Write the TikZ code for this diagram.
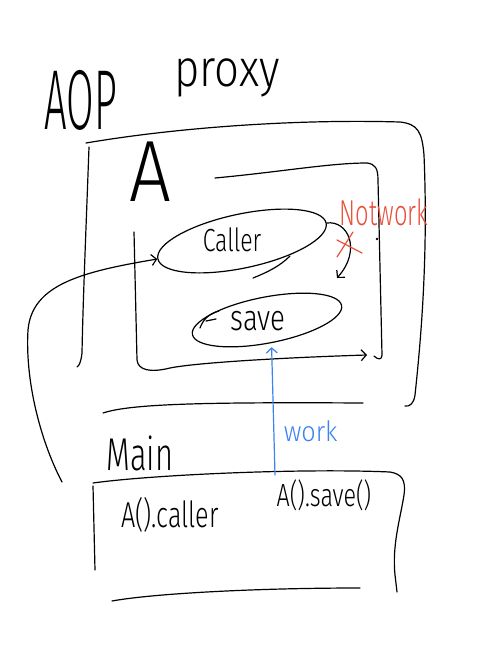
\documentclass[tikz,border=0pt]{standalone}
\usepackage{fontspec}
\setmainfont{Fira Sans Light}
\usetikzlibrary{arrows.meta}
\usetikzlibrary{shapes.geometric}
\definecolor{penred}{RGB}{232,80,60}
\definecolor{penblue}{RGB}{60,130,240}
\newcommand{\squeeze}[2]{\scalebox{#1}[1]{#2}}
\newcommand{\fs}[1]{\fontsize{#1}{#1}\selectfont}

\begin{document}
\begin{tikzpicture}[x=1pt, y=-1pt, line cap=round, line join=round, line width=1.2pt, >={Straight Barb[length=5pt,width=11pt]},
	bubble/.style={ellipse, draw, inner sep=0pt}]
			\useasboundingbox (0,0) rectangle (484,646);
			% title
			\node (aop) at (81,100) {\fs{85}\squeeze{0.47}{AOP}};
			\node (proxy) at (227,78) {\fs{52}\squeeze{0.84}{proxy}};
			% proxy box
			\draw (86,143) .. controls (180,127) and (300,119) .. (400,122) .. controls (418,124) and (422,132) .. (424,155) .. controls (428,250) and (422,330) .. (415,395) .. controls (414,403) and (410,407) .. (405,406);
			\draw (89,147) .. controls (86,230) and (83,300) .. (82,353) .. controls (81,362) and (79,366) .. (77,367);
			\draw (103,413) .. controls (130,404) and (200,402) .. (363,403);
			% class A box
			\node (classa) at (150,172) {\fs{87}\squeeze{0.85}{A}};
			\draw (215,178) .. controls (280,172) and (330,163) .. (367,163) .. controls (375,164) and (378,168) .. (378,180) -- (382,355) .. controls (382,360) and (378,360) .. (374,356);
			\draw[->] (134,232) -- (137,360) .. controls (138,370) and (150,373) .. (170,368) .. controls (200,362) and (300,357) .. (367,355);
			\fill (377,239) circle (1.3);
			% methods
			\node[bubble, minimum width=172, minimum height=54, rotate=12] (caller) at (242,241) {};
			\node (callertxt) at (232,240) {\fs{32}\squeeze{0.72}{Caller}};
			\draw (253,278) .. controls (268,272) and (280,266) .. (290,256);
			\node[bubble, minimum width=152, minimum height=46, rotate=11] (save) at (267,320) {};
			\node (savetxt) at (258,321) {\fs{36}\squeeze{0.77}{save}};
			\draw (200,328) .. controls (203,320) and (208,314) .. (219,311);
			\draw (206,321) -- (216,319);
			% self call
			\coordinate (nwend) at (337,278);
			\draw[->] (caller.east) .. controls (348,220) and (362,250) .. (nwend);
			\draw[penred] (337,257) -- (353,232);
			\draw[penred] (337,240) -- (362,253);
			\node[text=penred] (notwork) at (384,212) {\fs{36}\squeeze{0.66}{Notwork}};
			% main
			\node (maintxt) at (140,453) {\fs{46}\squeeze{0.67}{Main}};
			\draw (93,483) .. controls (150,475) and (300,468) .. (390,472) .. controls (402,474) and (406,480) .. (404,495) .. controls (400,520) and (392,545) .. (395,575) -- (397,592);
			\draw (93,486) -- (95,570);
			\draw (112,601) .. controls (150,594) and (250,588) .. (360,588);
			\node (callcall) at (170,515) {\fs{36}\squeeze{0.7}{A().caller}};
			\node (savecall) at (324,495) {\fs{32}\squeeze{0.73}{A().save()}};
			% calls
			\coordinate (mainleft) at (62,482);
			\draw[->] (mainleft) .. controls (40,440) and (25,380) .. (28,330) .. controls (32,285) and (80,272) .. (caller.west);
			\coordinate (workstart) at (275,475);
			\draw[->, penblue, shorten >=4pt] (workstart) -- node[pos=0.33, right=6pt, text=penblue] (worklbl) {\fs{28}\squeeze{0.9}{work}} (save.south);
		\end{tikzpicture}
\end{document}
